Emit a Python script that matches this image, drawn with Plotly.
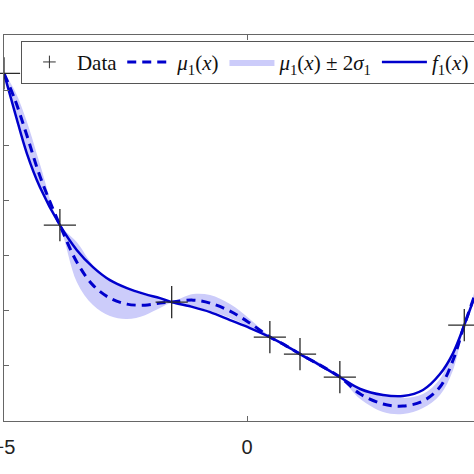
import plotly.graph_objects as go

# Sample positions along x
x_grid = [-5.00, -4.77, -4.53, -4.26, -3.85, -3.50, -3.17, -2.82, -2.47, -2.10,
          -1.79, -1.55, -1.11, -0.76, -0.35, 0.06, 0.47, 0.78, 1.09, 1.50,
          1.91, 2.33, 2.80, 3.21, 3.62, 3.97, 4.24, 4.47, 4.67]

# True function f1(x)
f_true = [6.304, 5.580, 4.855, 4.239, 3.551, 3.098, 2.790, 2.554, 2.409, 2.301,
          2.228, 2.156, 2.065, 1.975, 1.830, 1.685, 1.522, 1.377, 1.214, 1.014,
          0.797, 0.580, 0.471, 0.453, 0.562, 0.851, 1.232, 1.739, 2.228]

# GP posterior mean mu1(x)
mu = [6.304, 5.815, 5.181, 4.438, 3.551, 2.880, 2.464, 2.228, 2.120, 2.101,
      2.138, 2.156, 2.192, 2.138, 1.993, 1.775, 1.522, 1.377, 1.214, 1.014,
      0.797, 0.489, 0.308, 0.272, 0.362, 0.616, 1.105, 1.739, 2.246]

# Two standard deviations 2*sigma1(x)
two_sigma = [0.010, 0.160, 0.250, 0.220, 0.018, 0.362, 0.362, 0.326, 0.272, 0.181,
             0.091, 0.018, 0.109, 0.145, 0.127, 0.072, 0.018, 0.027, 0.018, 0.036,
             0.018, 0.091, 0.145, 0.145, 0.127, 0.145, 0.181, 0.018, 0.072]

# Observed data
x_data = [-5.00, -3.85, -1.55, 0.47, 1.09, 1.91, 4.47]
y_data = [6.304, 3.551, 2.156, 1.522, 1.214, 0.797, 1.739]

x_ticks = [-5, 0, 5]
x_tick_text = ["−5", "0", "5"]
y_ticks = [0, 1, 2, 3, 4, 5, 6, 7]

lower = [m - s for m, s in zip(mu, two_sigma)]
upper = [m + s for m, s in zip(mu, two_sigma)]

BLUE = "rgb(0,0,204)"
BAND = "rgb(204,204,250)"
AX = "#666666"

fig = go.Figure()

fig.add_trace(go.Scatter(x=x_grid, y=lower, mode="lines", line=dict(width=0, shape="spline", color=BAND),
                         showlegend=False, hoverinfo="skip"))
fig.add_trace(go.Scatter(x=x_grid, y=upper, mode="lines", line=dict(width=0, shape="spline", color=BAND),
                         fill="tonexty", fillcolor=BAND,
                         name="<i>μ</i><sub>1</sub>(<i>x</i>) ± 2<i>σ</i><sub>1</sub>",
                         legendrank=3))
fig.add_trace(go.Scatter(x=x_grid, y=mu, mode="lines",
                         line=dict(color=BLUE, width=3, dash="9px,6px", shape="spline"),
                         name="<i>μ</i><sub>1</sub>(<i>x</i>)", legendrank=2))
fig.add_trace(go.Scatter(x=x_grid, y=f_true, mode="lines",
                         line=dict(color=BLUE, width=2.5, shape="spline"),
                         name="<i>f</i><sub>1</sub>(<i>x</i>)", legendrank=4))
fig.add_trace(go.Scatter(x=x_data, y=y_data, mode="markers",
                         marker=dict(symbol="cross-thin", size=23, line=dict(width=1.3, color="#2a2a2a")),
                         cliponaxis=False, showlegend=False, name="Data"))
# legend-only entry for the data markers (smaller symbol as in the reference)
fig.add_trace(go.Scatter(x=[None], y=[None], mode="markers",
                         marker=dict(symbol="cross-thin", size=9, line=dict(width=1, color="#333333")),
                         name="Data", legendrank=1))

fig.update_layout(
    width=474, height=474,
    margin=dict(l=4, r=0, t=35, b=53, autoexpand=False),
    paper_bgcolor="white", plot_bgcolor="white",
    showlegend=True,
    legend=dict(orientation="h", x=0.036, y=0.985, xanchor="left", yanchor="top",
                bgcolor="white", bordercolor="#555555", borderwidth=1,
                font=dict(family="Liberation Serif", size=21, color="#111111"),
                itemwidth=45, tracegroupgap=0, traceorder="normal"),
    xaxis=dict(range=[-5, 4.67], tickvals=x_ticks, ticktext=x_tick_text, automargin=False,
               ticks="inside", ticklen=5, tickcolor=AX, showline=True, linecolor=AX, linewidth=1,
               mirror="ticks", showgrid=False, zeroline=False,
               tickfont=dict(family="Liberation Sans", size=20, color="#222222"),
               ticklabelstandoff=8, ticklabeloverflow="allow"),
    yaxis=dict(range=[0, 7], tickvals=y_ticks, ticks="inside", ticklen=5, tickcolor=AX,
               automargin=False,
               showline=True, linecolor=AX, linewidth=1, mirror=False,
               showgrid=False, zeroline=False, showticklabels=False),
)

fig.write_html("out.html")
